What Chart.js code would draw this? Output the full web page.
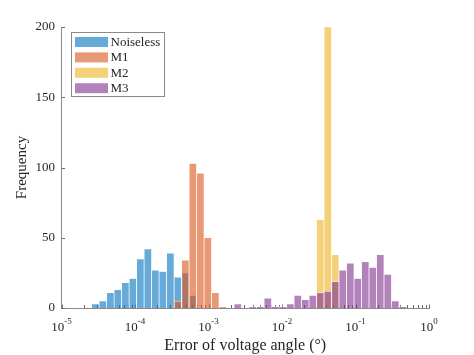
<!DOCTYPE html>
<html><head><meta charset="utf-8">
<script src="https://cdn.jsdelivr.net/npm/chart.js@4.4.1/dist/chart.umd.min.js"></script>
<style>html,body{margin:0;padding:0;background:#fff;}#wrap{width:474px;height:355px;}</style>
</head><body><div id="wrap"><canvas id="c" width="474" height="355"></canvas></div>
<script>
// Histogram bins (log10 of left edge of first bin, log10 bin width)
const binStartExp = -4.59;
const binWidthExp = 0.102;
const seriesNames = ['Noiseless', 'M1', 'M2', 'M3'];
const noiseless = [3,5,11,13,18,21,35,42,27,26,39,22,25,9, 0,0,0,0,0,0,0,0,0,0,0,0,0,0,0,0,0,0,0,0,0,0,0,0,0,0,0,0];
const m1 = [0,0,0,0,0,0,0,0,0,0,0,5,34,103,96,50,11,1, 0,0,0,0,0,0,0,0,0,0,0,0,0,0,0,0,0,0,0,0,0,0,0,0];
const m2 = [0,0,0,0,0,0,0,0,0,0,0,0,0,0,0,0,0,0,0,0,0,0,0,0,0,0,0,0,0,0,63,200,38,0,0,0,0,0,0,0,0,0];
const m3 = [0,0,0,0,0,0,0,0,0,0,0,0,0,0,0,0,0,0,0,3,0,1,1,7,1,1,3,9,6,9,11,12,19,27,32,21,33,29,38,24,5,1];
const decades = [-5, -4, -3, -2, -1, 0];
const yTicks = [0, 50, 100, 150, 200];

const colors = ['rgba(0,114,189,0.6)', 'rgba(217,83,25,0.6)', 'rgba(237,177,32,0.6)', 'rgba(126,47,142,0.6)'];
const binCenters = noiseless.map((_, k) => Math.pow(10, binStartExp + (k + 0.5) * binWidthExp));
function toPoints(arr) { return arr.map((v, k) => ({x: binCenters[k], y: v > 0 ? v : null})); }
const allSeries = [noiseless, m1, m2, m3];
const FONT = '"Liberation Serif", "Times New Roman", serif';
const TXT = '#262626';
const AX = '#8a8a8a';

const decor = {
  id: 'decor',
  beforeDatasetsDraw(chart) {
    const {ctx, scales: {x, y}} = chart;
    ctx.save();
    ctx.strokeStyle = '#6a6a6a';
    ctx.lineWidth = 1;
    const yb = y.getPixelForValue(0);
    ctx.beginPath();
    decades.forEach(e => {
      const px = Math.round(x.getPixelForValue(Math.pow(10, e))) + 0.5;
      ctx.moveTo(px, yb); ctx.lineTo(px, yb - 3.5);
      if (e < 0) {
        for (let m = 2; m <= 9; m++) {
          const pm = Math.round(x.getPixelForValue(m * Math.pow(10, e))) + 0.5;
          ctx.moveTo(pm, yb); ctx.lineTo(pm, yb - 3);
        }
      }
    });
    const xl = x.left;
    yTicks.forEach(v => {
      const py = Math.round(y.getPixelForValue(v)) + 0.5;
      ctx.moveTo(xl, py); ctx.lineTo(xl + 3.5, py);
    });
    ctx.stroke();
    ctx.restore();
  },
  afterDraw(chart) {
    const {ctx, scales: {x}} = chart;
    ctx.save();
    ctx.fillStyle = TXT;
    ctx.textBaseline = 'alphabetic';
    ctx.textAlign = 'left';
    decades.forEach(e => {
      const px = x.getPixelForValue(Math.pow(10, e));
      ctx.font = '13px ' + FONT;
      const w1 = ctx.measureText('10').width;
      const sup = String(e);
      ctx.font = '9px ' + FONT;
      const w2 = ctx.measureText(sup).width;
      const start = px - (w1 + w2) / 2;
      ctx.font = '13px ' + FONT;
      ctx.fillText('10', start, 330.5);
      ctx.font = '9px ' + FONT;
      ctx.fillText(sup, start + w1, 324);
    });
    // legend
    const lx = 71, ly = 32.5, lw = 94, lh = 64;
    ctx.fillStyle = '#fff';
    ctx.fillRect(lx, ly, lw, lh);
    ctx.strokeStyle = AX;
    ctx.lineWidth = 1;
    ctx.strokeRect(lx + 0.5, ly, lw - 1, lh);
    ctx.font = '13px ' + FONT;
    ctx.textBaseline = 'middle';
    seriesNames.forEach((n, i) => {
      const cy = 42 + 15.4 * i;
      ctx.fillStyle = colors[i];
      ctx.fillRect(75, cy - 5, 33, 10);
      ctx.fillStyle = TXT;
      ctx.fillText(n, 110.5, cy + 0.5);
    });
    ctx.restore();
  }
};

new Chart(document.getElementById('c'), {
  type: 'bar',
  data: {
    datasets: allSeries.map((arr, i) => ({
      label: seriesNames[i],
      data: toPoints(arr),
      backgroundColor: colors[i],
      borderColor: 'rgba(255,255,255,0.85)',
      borderWidth: 0.7,
      borderSkipped: 'start',
      grouped: false,
      barPercentage: 1,
      categoryPercentage: 1,
      order: 4 - i
    }))
  },
  options: {
    responsive: false,
    animation: false,
    devicePixelRatio: 1,
    layout: {padding: {left: 0, top: 27, right: 45, bottom: 0}},
    plugins: {legend: {display: false}, tooltip: {enabled: false}},
    scales: {
      x: {
        type: 'logarithmic', min: 1e-5, max: 1, offset: false,
        grid: {display: false, drawTicks: false, offset: false},
        border: {display: true, color: AX, width: 1},
        ticks: {display: false},
        afterBuildTicks: s => { s.ticks = decades.map(e => ({value: Math.pow(10, e), major: true})); },
        afterFit: s => { s.height = 47; },
        title: {display: true, text: 'Error of voltage angle (°)', color: TXT,
          font: {family: FONT, size: 16, lineHeight: 1.125}, padding: {top: 0, bottom: 0}}
      },
      y: {
        min: 0, max: 200,
        ticks: {stepSize: 50, padding: 6.5, color: TXT, font: {family: FONT, size: 13}},
        grid: {display: false, drawTicks: false},
        border: {display: true, color: AX, width: 1},
        afterFit: s => { s.width = 61.5; },
        title: {display: true, text: 'Frequency', color: TXT,
          font: {family: FONT, size: 15, lineHeight: 1.2}, padding: {top: 13, bottom: 0}}
      }
    }
  },
  plugins: [decor]
});
</script>
</body></html>
